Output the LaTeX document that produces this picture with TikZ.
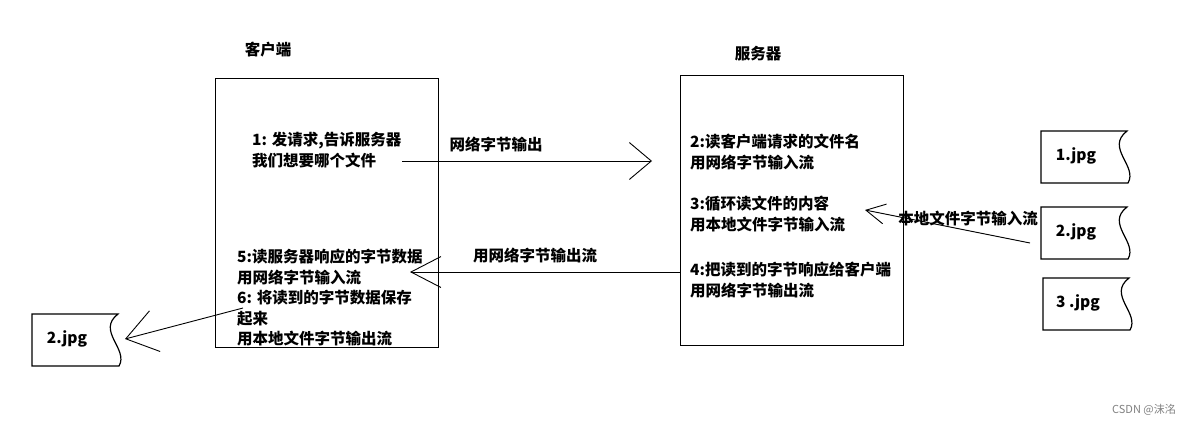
\documentclass[tikz,border=0pt]{standalone}
\usepackage{fontspec}
\setmainfont{Noto Sans CJK SC}
\usetikzlibrary{arrows.meta}

% file with a torn right edge: name, x, y, label
\newcommand{\jpgfile}[4]{%
  \draw[filebox] (#2+86,#3) -- (#2,#3) -- (#2,#3+52) -- (#2+87,#3+52)
    .. controls (#2+97,#3+35) and (#2+64,#3+17) .. cycle;
  \node[tag] (#1) at (#2+35,#3+25) {#4};
}

\begin{document}
\begin{tikzpicture}[x=1pt,y=-1pt,
		box/.style={draw,line width=1.2pt,inner sep=0pt,anchor=north west},
		txt/.style={font=\bfseries\fontsize{15.5}{21}\selectfont,align=left,inner sep=0pt,anchor=north west},
		tag/.style={font=\bfseries\fontsize{15.5}{21}\selectfont,inner sep=0pt},
		filebox/.style={draw,line width=1.2pt},
		arrow/.style={line width=0.9pt}
		]
		\useasboundingbox (0,0) rectangle (1193,426);
		
		% client
		\node[box,minimum width=223,minimum height=269] (client) at (215,78) {};
		\node[tag] (clienttitle) at (268,50) {客户端};
		\node[txt] (request) at (252,132) {1: 发请求,告诉服务器\\我们想要哪个文件};
		\node[txt,font=\bfseries\fontsize{15.5}{20.5}\selectfont] (save) at (237,249)
		{5:读服务器响应的字节数据\\用网络字节输入流\\6: 将读到的字节数据保存\\起来\\用本地文件字节输出流};
		
		% server
		\node[box,minimum width=223,minimum height=270] (server) at (680,75) {};
		\node[tag] (servertitle) at (758,54) {服务器};
		\node[txt] (readname) at (690,134) {2:读客户端请求的文件名\\用网络字节输入流};
		\node[txt] (readfile) at (690,196) {3:循环读文件的内容\\用本地文件字节输入流};
		\node[txt] (respond) at (690,262) {4:把读到的字节响应给客户端\\用网络字节输出流};
		
		% files
		\jpgfile{jpgone}{1041}{131}{1.jpg}
		\jpgfile{jpgtwo}{1041}{207}{2.jpg}
		\jpgfile{jpgthree}{1043}{278}{3 .jpg}
		\jpgfile{jpgsaved}{32}{314}{2.jpg}
		
		% arrow labels
		\node[tag] (netout) at (496,144) {网络字节输出};
		\node[tag] (netoutstream) at (535,256) {用网络字节输出流};
		\node[tag] (localin) at (968,219) {本地文件字节输入流};
		
		% arrows
		\coordinate (reqend) at (402,161);
		\coordinate (reqtip) at (652,161);
		\coordinate (resptip) at (410,272);
		\coordinate (loadstart) at (1030,243);
		\coordinate (loadtip) at (865,210);
		\coordinate (savestart) at (243,308);
		\coordinate (savetip) at (125,339);
		\draw[arrow,-{Straight Barb[length=22pt,width=37pt]}] (reqend) -- (reqtip);
		\draw[arrow,-{Straight Barb[length=30pt,width=31pt]}] (server.west |- resptip) -- (resptip);
		\draw[arrow,-{Straight Barb[length=19pt,width=20pt]}] (loadstart) -- (loadtip);
		\draw[arrow,-{Straight Barb[length=30pt,width=42pt]}] (savestart) -- (savetip);
		
		% watermark
		\node[font=\fontsize{11}{13}\selectfont,text=gray,inner sep=0pt] (mark) at (1144,410) {CSDN @沫洺};
\end{tikzpicture}
\end{document}
